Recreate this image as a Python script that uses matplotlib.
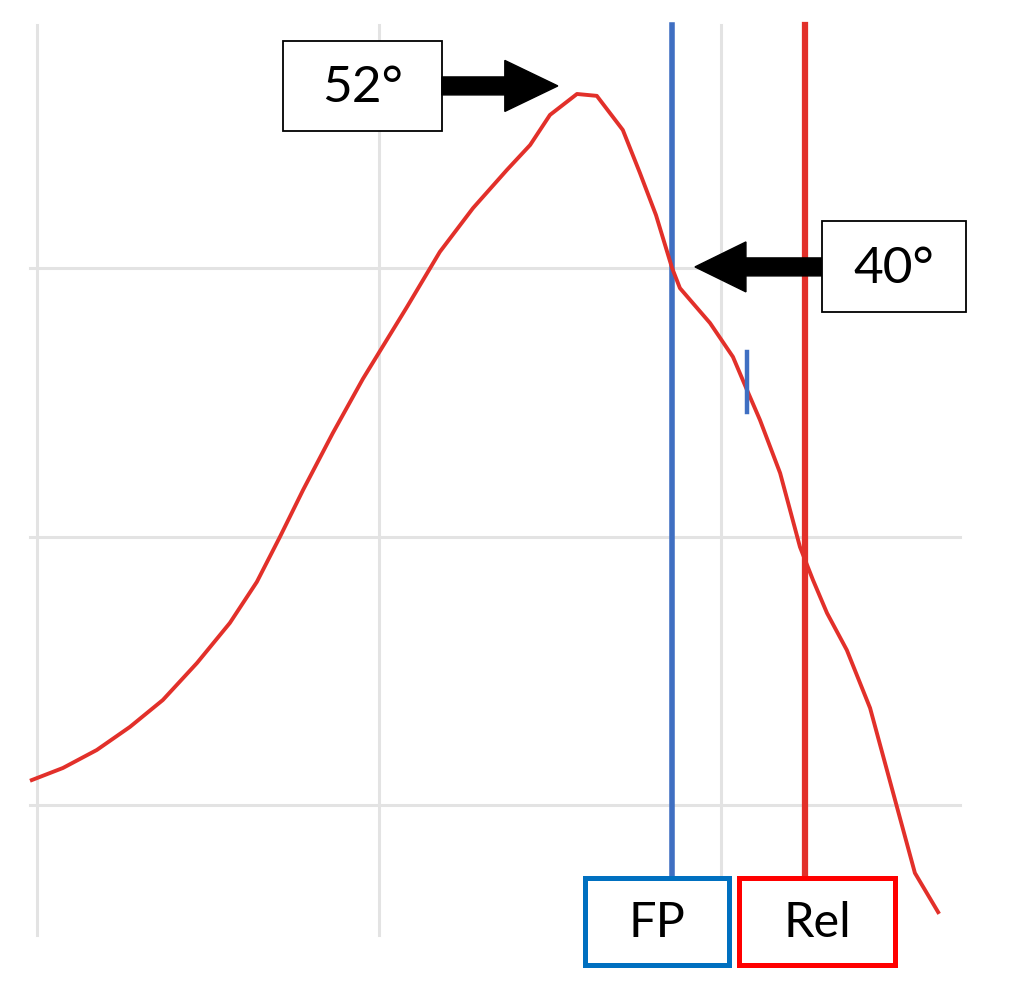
import matplotlib.pyplot as plt
from matplotlib.patches import Rectangle, FancyArrow

# curve (grid units: vertical grid at x = 0, 1, 2 ; horizontal at y = 0, 1, 2)
curve_x = [-0.015, 0.076, 0.175, 0.272, 0.368, 0.468, 0.564, 0.643, 0.711, 0.778,
           0.865, 0.953, 1.082, 1.178, 1.275, 1.374, 1.442, 1.500, 1.579, 1.637,
           1.713, 1.763, 1.810, 1.857, 1.880, 1.968, 2.035, 2.076, 2.114, 2.173,
           2.231, 2.269, 2.310, 2.368, 2.436, 2.567, 2.635]
curve_y = [0.093, 0.138, 0.205, 0.291, 0.391, 0.529, 0.678, 0.831, 1.000, 1.173,
           1.385, 1.587, 1.855, 2.060, 2.223, 2.365, 2.458, 2.570, 2.648, 2.641,
           2.514, 2.354, 2.197, 2.000, 1.925, 1.795, 1.669, 1.546, 1.434, 1.236,
           0.961, 0.838, 0.715, 0.577, 0.361, -0.253, -0.399]

grid_x = [0, 1, 2]
grid_y = [0, 1, 2]

fp_x = 1.857     # blue vertical line
rel_x = 2.246    # red vertical line
tick_x = 2.076   # small blue mark
tick_y = [1.464, 1.687]

label_peak = "52°"
label_fp = "40°"

plt.rcParams['font.family'] = ['Lato', 'DejaVu Sans']

fig = plt.figure(figsize=(10.24, 9.93), dpi=100)
ax = fig.add_axes([0, 0, 1, 1])
ax.set_xlim(-0.108, 2.886)
ax.set_ylim(-0.700, 2.998)
ax.axis('off')

# grid
for gx in grid_x:
    ax.plot([gx, gx], [-0.484, 2.905], color='#e3e3e3', lw=2.2, zorder=1)
for gy in grid_y:
    ax.plot([-0.020, 2.699], [gy, gy], color='#e3e3e3', lw=2.2, zorder=1)

# curve
ax.plot(curve_x, curve_y, color='#e2302a', lw=2.8, zorder=3)

# vertical markers
ax.plot([fp_x, fp_x], [-0.272, 2.905], color='#3f6fc2', lw=4.0, zorder=2)
ax.plot([rel_x, rel_x], [-0.272, 2.905], color='#e2302a', lw=4.5, zorder=2)
ax.plot([tick_x, tick_x], tick_y, color='#3f6fc2', lw=3.2, zorder=4)

# 52 deg box + arrow
ax.add_patch(Rectangle((0.719, 2.510), 0.465, 0.335, fill=True, fc='white',
                       ec='black', lw=1.3, zorder=5))
ax.text(0.952, 2.672, label_peak, ha='center', va='center', fontsize=37, zorder=6)
ax.add_patch(FancyArrow(1.184, 2.678, 0.339, 0, width=0.067, head_width=0.19,
                        head_length=0.155, length_includes_head=True,
                        color='black', zorder=5))

# 40 deg box + arrow
ax.add_patch(FancyArrow(2.295, 2.004, -0.371, 0, width=0.067, head_width=0.186,
                        head_length=0.149, length_includes_head=True,
                        color='black', zorder=5))
ax.add_patch(Rectangle((2.295, 1.836), 0.421, 0.339, fill=True, fc='white',
                       ec='black', lw=1.3, zorder=5))
ax.text(2.5055, 1.998, label_fp, ha='center', va='center', fontsize=37, zorder=6)

# bottom label boxes
ax.add_patch(Rectangle((1.602, -0.596), 0.421, 0.324, fill=True, fc='white',
                       ec='#0070c0', lw=3.6, zorder=5))
ax.text(1.8125, -0.440, "FP", ha='center', va='center', fontsize=35, zorder=6)
ax.add_patch(Rectangle((2.053, -0.596), 0.456, 0.324, fill=True, fc='white',
                       ec='#ff0000', lw=3.6, zorder=5))
ax.text(2.281, -0.440, "Rel", ha='center', va='center', fontsize=35, zorder=6)

fig.savefig('out.png', dpi=100)
